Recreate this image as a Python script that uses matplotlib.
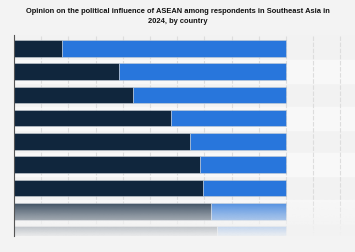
import numpy as np
import matplotlib
matplotlib.use("Agg")
import matplotlib.pyplot as plt

# survey countries (labels hidden in the reference)
countries = ["Myanmar", "Singapore", "Vietnam", "Malaysia", "Thailand",
             "Philippines", "Indonesia", "Cambodia", "Laos"]
negative = [17.6, 38.7, 43.8, 57.7, 64.7, 68.5, 69.5, 72.5, 74.6]
positive = [82.4, 61.3, 56.2, 42.3, 35.3, 31.5, 30.5, 27.5, 25.4]
grid_ticks = list(range(0, 130, 10))

title = ("Opinion on the political influence of ASEAN among respondents in Southeast Asia in\n"
         "2024, by country")

bg = "#f3f3f3"
dark = "#10263d"
blue = "#2876dc"

fig = plt.figure(figsize=(3.55, 2.53), dpi=100, facecolor=bg)
ax = fig.add_axes([14 / 355, 1 - 237 / 253, 1 - 14 / 355, (237 - 36) / 253])
ax.set_facecolor("#f2f2f2")

y = np.arange(len(countries))

# alternating row bands
for i in y:
    if i % 2 == 1:
        ax.axhspan(i - 0.5, i + 0.5, color="#f8f8f8", zorder=0)

for t in grid_ticks:
    ax.axvline(t, color="#dddddd", lw=0.8, ls=(0, (4, 1.5)), zorder=1)

ax.barh(y, negative, height=0.71, color=dark, edgecolor="#c8ced4", lw=0.4, zorder=2)
ax.barh(y, positive, left=negative, height=0.71, color=blue, edgecolor="#c8ced4", lw=0.4, zorder=2)

ax.set_xlim(0, 125.4)
ax.set_ylim(8.06, -0.571)

# paywall-style fade at the bottom
grad = np.zeros((100, 1, 4))
c = matplotlib.colors.to_rgb(bg)
grad[..., 0], grad[..., 1], grad[..., 2] = c
grad[:, 0, 3] = np.linspace(0, 0.95, 100) ** 0.75
ax.imshow(grad, extent=(0, 1, 0, (237 - 199) / 201), origin="upper",
          transform=ax.transAxes, aspect="auto", zorder=3)

for s in ["top", "right", "bottom"]:
    ax.spines[s].set_visible(False)
ax.spines["left"].set_color("#555555")
ax.spines["left"].set_linewidth(0.8)
ax.spines["left"].set_zorder(4)
ax.set_xticks([])
ax.set_yticks([])

fig.text(0.5, 1 - 16.5 / 253, title, ha="center", va="center", fontsize=5.4,
         fontweight="bold", family="Liberation Sans", color="#111111", linespacing=1.75)

fig.savefig("out.png", dpi=100, facecolor=bg)
